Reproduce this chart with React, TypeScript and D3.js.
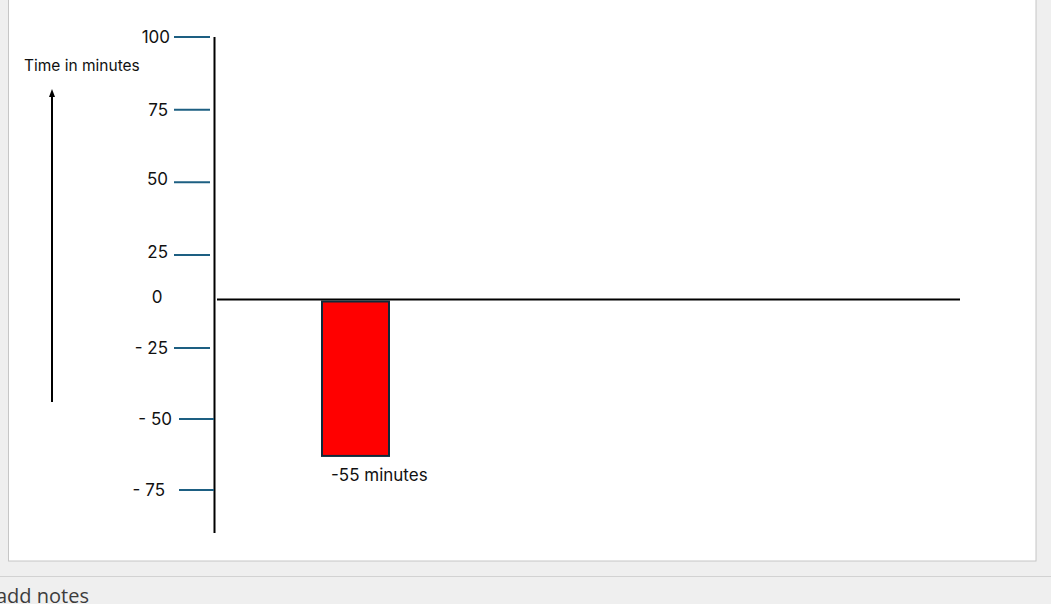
import * as d3 from 'd3'

// Axis tick values and their printed labels (the slide writes negatives as "- 25")
const tickValues = [100, 75, 50, 25, 0, -25, -50, -75]
const tickLabels = ['100', '75', '50', '25', '0', '- 25', '- 50', '- 75']

// One bar; the drawn bar reaches about -63 on the hand-made axis, annotated as -55
const categories = ['Delay']
const barValues = [-63]
const barLabels = ['-55 minutes']

const axisTitle = 'Time in minutes'

const W = 1051
const H = 604
const FONT = 'Inter, "Open Sans", sans-serif'

export default function App() {
  // the axis on the slide is hand-spaced, so use a piecewise linear scale
  const y = d3.scaleLinear()
    .domain([100, 25, 0, -25, -75])
    .range([37, 255, 299.5, 348, 490])

  const x = d3.scaleBand<string>()
    .domain(categories)
    .range([322, 389])
    .padding(0)

  const axisX = 214.5
  const tickColor = '#1d5f82'

  return (
    <div style={{ position: 'fixed', left: 0, top: 0, width: W, height: H, background: '#efefef' }}>
      <svg width={W} height={H} style={{ display: 'block', fontFamily: FONT }}>
        {/* slide area */}
        <rect x={8.5} y={-2} width={1027.5} height={563} fill="#ffffff" stroke="#c6c6c6" strokeWidth={1} />
        <line x1={0} x2={W} y1={576.5} y2={576.5} stroke="#d2d2d2" strokeWidth={1} />
        <text x={-4} y={603} fontSize={20} fill="#3c3c3c" fontFamily='"Open Sans", sans-serif'>add notes</text>

        {/* title + arrow */}
        <text x={24} y={71} fontSize={15.5} fill="#111">{axisTitle}</text>
        <line x1={52} x2={52} y1={402} y2={96} stroke="#000" strokeWidth={2} />
        <path d="M52,89 L49,97 L55,97 Z" fill="#000" />

        {/* vertical axis */}
        <line x1={axisX} x2={axisX} y1={y(100)} y2={533} stroke="#000" strokeWidth={2} />

        {/* ticks */}
        {tickValues.map((v, i) => {
          const ty = y(v)
          const shifted = v <= -50
          const x1 = shifted ? 179 : 174
          const x2 = shifted ? 214 : 210
          const labelEnd = v === -50 ? 172 : v === -75 ? 165 : v === 100 ? 170 : 168
          const labelY = v === 50 || v === 25 ? ty - 3 : v === 0 ? ty - 2 : ty
          return (
            <g key={v}>
              {v !== 0 && (
                <line x1={x1} x2={x2} y1={ty} y2={ty} stroke={tickColor} strokeWidth={2} />
              )}
              <text
                x={v === 0 ? 157 : labelEnd}
                y={labelY}
                dy="0.35em"
                textAnchor={v === 0 ? 'middle' : 'end'}
                fontSize={17}
                fill="#111"
              >
                {tickLabels[i]}
              </text>
            </g>
          )
        })}

        {/* bars */}
        {categories.map((c, i) => {
          const top = y(Math.max(0, barValues[i]))
          const bottom = y(Math.min(0, barValues[i]))
          const bx = x(c) as number
          return (
            <g key={c}>
              <rect
                x={bx}
                y={top + 2}
                width={x.bandwidth()}
                height={bottom - top - 2}
                fill="#ff0000"
                stroke="#0e2a3a"
                strokeWidth={2}
              />
              <text x={bx + 9} y={bottom + 25} fontSize={17} fill="#111">{barLabels[i]}</text>
            </g>
          )
        })}

        {/* zero line */}
        <line x1={217} x2={960} y1={y(0)} y2={y(0)} stroke="#000" strokeWidth={2} />
      </svg>
    </div>
  )
}
